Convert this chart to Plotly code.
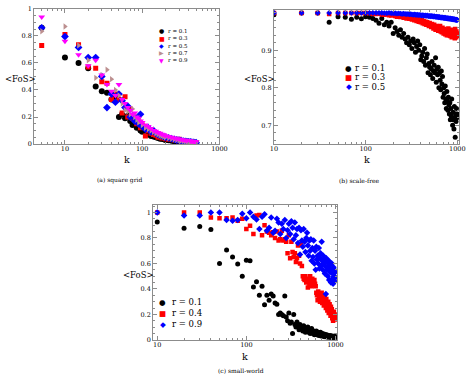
import plotly.graph_objects as go

# ------------------------------------------------------------------ data
# (a) square grid
k_sq = [5, 10, 15, 20, 25, 30, 35, 40, 45, 50,
        55, 60, 65, 70, 75, 80, 85, 90, 95, 100,
        110, 120, 130, 140, 150, 160, 170, 180, 190, 200,
        220, 240, 260, 280, 300, 320, 340, 360, 380, 400, 420, 440, 460, 480, 500]
fos_sq_r01 = [0.86, 0.64, 0.60, 0.56, 0.425, 0.39, 0.38, 0.33, 0.35, 0.20,
              0.22, 0.19, 0.21, 0.17, 0.14, 0.15, 0.12, 0.13, 0.10, 0.09,
              0.10, 0.07, 0.06, 0.055, 0.05, 0.045, 0.04, 0.04, 0.035, 0.03,
              0.028, 0.025, 0.02, 0.02, 0.015, 0.015, 0.012, 0.012, 0.01, 0.01, 0.008, 0.008, 0.007, 0.006, 0.006]
fos_sq_r03 = [0.73, 0.81, 0.735, 0.57, 0.56, 0.46, 0.45, 0.33, 0.37, 0.33,
              0.23, 0.35, 0.20, 0.26, 0.19, 0.20, 0.15, 0.17, 0.12, 0.14,
              0.06, 0.10, 0.08, 0.07, 0.065, 0.05, 0.055, 0.045, 0.05, 0.04,
              0.035, 0.04, 0.03, 0.028, 0.035, 0.02, 0.022, 0.018, 0.02, 0.015, 0.016, 0.012, 0.014, 0.01, 0.011]
fos_sq_r05 = [0.86, 0.795, 0.715, 0.64, 0.64, 0.50, 0.27, 0.37, 0.31, 0.37,
              0.32, 0.27, 0.28, 0.20, 0.21, 0.17, 0.19, 0.15, 0.22, 0.13,
              0.11, 0.12, 0.09, 0.10, 0.08, 0.07, 0.065, 0.06, 0.055, 0.05,
              0.045, 0.04, 0.035, 0.03, 0.028, 0.025, 0.022, 0.02, 0.018, 0.016, 0.015, 0.014, 0.012, 0.011, 0.01]
fos_sq_r07 = [0.835, 0.87, 0.73, 0.62, 0.49, 0.51, 0.55, 0.48, 0.40, 0.36,
              0.30, 0.25, 0.24, 0.22, 0.26, 0.20, 0.18, 0.16, 0.17, 0.14,
              0.12, 0.11, 0.10, 0.09, 0.08, 0.072, 0.065, 0.06, 0.055, 0.05,
              0.045, 0.04, 0.035, 0.032, 0.028, 0.025, 0.022, 0.02, 0.018, 0.016, 0.015, 0.014, 0.013, 0.012, 0.011]
fos_sq_r09 = [0.94, 0.76, 0.66, 0.58, 0.62, 0.51, 0.44, 0.39, 0.36, 0.44,
              0.33, 0.30, 0.27, 0.25, 0.22, 0.23, 0.20, 0.19, 0.17, 0.16,
              0.14, 0.13, 0.115, 0.10, 0.095, 0.085, 0.08, 0.072, 0.068, 0.062,
              0.055, 0.05, 0.045, 0.04, 0.037, 0.034, 0.03, 0.028, 0.026, 0.024, 0.022, 0.02, 0.019, 0.018, 0.016]

# (b) scale-free
k_sf = [10, 20, 30, 40, 50, 60, 70, 80, 90, 100,
        110, 120, 130, 140, 150, 160, 170, 180, 190, 200,
        210, 220, 230, 240, 250, 260, 270, 280, 290, 300,
        310, 320, 330, 340, 350, 360, 370, 380, 390, 400,
        410, 420, 430, 440, 450, 460, 470, 480, 490, 500,
        510, 520, 530, 540, 550, 560, 570, 580, 590, 600,
        610, 620, 630, 640, 650, 660, 670, 680, 690, 700,
        710, 720, 730, 740, 750, 760, 770, 780, 790, 800,
        810, 820, 830, 840, 850, 860, 870, 880, 890, 900,
        910, 920, 930, 940, 950, 960, 970, 980, 990, 1000]
fos_sf_r01 = [0.995, 1.0, 1.0, 0.975, 0.99, 0.988, 0.983, 0.988, 0.984, 0.99,
              0.988, 0.985, 0.98, 0.972, 0.985, 0.968, 0.975, 0.965, 0.975, 0.945,
              0.96, 0.95, 0.94, 0.955, 0.935, 0.945, 0.93, 0.92, 0.935, 0.915,
              0.925, 0.905, 0.93, 0.92, 0.895, 0.91, 0.925, 0.9, 0.915, 0.875,
              0.885, 0.895, 0.87, 0.905, 0.86, 0.88, 0.89, 0.84, 0.865, 0.855,
              0.835, 0.85, 0.87, 0.825, 0.845, 0.86, 0.84, 0.88, 0.815, 0.85,
              0.835, 0.855, 0.8, 0.84, 0.82, 0.795, 0.845, 0.81, 0.83, 0.775,
              0.8, 0.785, 0.76, 0.805, 0.77, 0.745, 0.79, 0.765, 0.74, 0.775,
              0.755, 0.73, 0.76, 0.715, 0.745, 0.725, 0.77, 0.72, 0.7, 0.735,
              0.715, 0.69, 0.75, 0.72, 0.668, 0.73, 0.71, 0.745, 0.72, 0.73]
fos_sf_r03 = [1.0, 1.0, 1.0, 0.997, 1.0, 1.0, 1.0, 1.0, 1.0, 1.0,
              0.999, 0.998, 0.997, 0.998, 0.996, 0.995, 0.996, 0.994, 0.993, 0.995,
              0.992, 0.99, 0.993, 0.989, 0.991, 0.987, 0.99, 0.985, 0.988, 0.984,
              0.987, 0.982, 0.986, 0.98, 0.985, 0.978, 0.983, 0.976, 0.982, 0.975,
              0.98, 0.972, 0.978, 0.97, 0.976, 0.968, 0.975, 0.97, 0.965, 0.973,
              0.967, 0.962, 0.97, 0.964, 0.958, 0.968, 0.96, 0.955, 0.965, 0.958,
              0.962, 0.952, 0.96, 0.955, 0.965, 0.95, 0.958, 0.948, 0.96, 0.952,
              0.945, 0.957, 0.95, 0.943, 0.955, 0.947, 0.94, 0.952, 0.945, 0.958,
              0.94, 0.948, 0.953, 0.938, 0.945, 0.95, 0.935, 0.955, 0.942, 0.948,
              0.937, 0.952, 0.944, 0.932, 0.957, 0.94, 0.935, 0.95, 0.945, 0.938]
fos_sf_r05 = [1.0, 1.0, 1.0, 1.0, 1.0, 1.0, 1.0, 1.0, 1.0, 1.0,
              1.0, 1.0, 1.0, 1.0, 1.0, 0.9995, 0.999, 1.0, 0.999, 0.9985,
              0.999, 0.998, 0.9985, 0.998, 0.997, 0.998, 0.997, 0.9965, 0.997, 0.996,
              0.9965, 0.996, 0.995, 0.996, 0.995, 0.9945, 0.995, 0.994, 0.9945, 0.994,
              0.993, 0.994, 0.993, 0.9925, 0.993, 0.992, 0.993, 0.992, 0.991, 0.992,
              0.991, 0.992, 0.9905, 0.991, 0.99, 0.991, 0.99, 0.9895, 0.99, 0.989,
              0.9895, 0.989, 0.988, 0.989, 0.988, 0.9875, 0.988, 0.987, 0.988, 0.987,
              0.9865, 0.987, 0.986, 0.987, 0.986, 0.9855, 0.986, 0.985, 0.986, 0.985,
              0.9845, 0.985, 0.984, 0.985, 0.984, 0.9835, 0.984, 0.983, 0.984, 0.983,
              0.9825, 0.983, 0.982, 0.983, 0.982, 0.9815, 0.982, 0.981, 0.982, 0.981]

# (c) small-world
k_sw = [10, 20, 30, 40, 50, 60, 70, 80, 90, 100,
        110, 120, 130, 140, 150, 160, 170, 180, 190, 200,
        210, 220, 230, 240, 250, 260, 270, 280, 290, 300,
        310, 320, 330, 340, 350, 360, 370, 380, 390, 400,
        410, 420, 430, 440, 450, 460, 470, 480, 490, 500,
        510, 520, 530, 540, 550, 560, 570, 580, 590, 600,
        610, 620, 630, 640, 650, 660, 670, 680, 690, 700,
        710, 720, 730, 740, 750, 760, 770, 780, 790, 800,
        810, 820, 830, 840, 850, 860, 870, 880, 890, 900,
        910, 920, 930, 940, 950, 960, 970, 980, 990, 1000]
fos_sw_r01 = [0.925, 0.875, 0.89, 0.865, 0.6, 0.705, 0.65, 0.595, 0.5, 0.625,
              0.62, 0.415, 0.455, 0.35, 0.42, 0.275, 0.35, 0.31, 0.36, 0.345,
              0.29, 0.28, 0.2, 0.21, 0.2, 0.19, 0.345, 0.18, 0.15, 0.21,
              0.13, 0.14, 0.05, 0.2, 0.12, 0.1, 0.14, 0.11, 0.08, 0.12,
              0.09, 0.1, 0.07, 0.11, 0.08, 0.06, 0.09, 0.07, 0.1, 0.06,
              0.08, 0.05, 0.07, 0.09, 0.06, 0.05, 0.07, 0.04, 0.06, 0.05,
              0.07, 0.04, 0.05, 0.06, 0.035, 0.05, 0.04, 0.06, 0.03, 0.045,
              0.035, 0.05, 0.03, 0.04, 0.025, 0.045, 0.03, 0.035, 0.025, 0.04,
              0.02, 0.035, 0.03, 0.02, 0.03, 0.025, 0.035, 0.02, 0.03, 0.015,
              0.025, 0.03, 0.02, 0.025, 0.015, 0.025, 0.02, 0.03, 0.015, 0.02]
fos_sw_r04 = [1.0, 1.0, 1.0, 0.96, 0.955, 0.955, 0.96, 0.935, 0.95, 0.87,
              0.895, 0.83, 0.975, 0.98, 0.82, 0.9, 0.85, 0.84, 0.82, 0.845,
              0.8, 0.85, 0.78, 0.79, 0.855, 0.78, 0.79, 0.77, 0.68, 0.82,
              0.64, 0.77, 0.69, 0.65, 0.68, 0.61, 0.64, 0.74, 0.66, 0.6,
              0.75, 0.58, 0.5, 0.48, 0.47, 0.5, 0.45, 0.48, 0.41, 0.47,
              0.44, 0.5, 0.46, 0.42, 0.48, 0.45, 0.43, 0.47, 0.44, 0.42,
              0.37, 0.35, 0.31, 0.38, 0.33, 0.36, 0.3, 0.34, 0.32, 0.37,
              0.29, 0.33, 0.35, 0.27, 0.31, 0.34, 0.28, 0.25, 0.32, 0.29,
              0.23, 0.27, 0.3, 0.21, 0.25, 0.28, 0.22, 0.19, 0.26, 0.2,
              0.24, 0.17, 0.21, 0.15, 0.19, 0.22, 0.17, 0.2, 0.16, 0.18]
fos_sw_r09 = [1.0, 0.975, 0.975, 1.0, 1.0, 0.94, 0.935, 0.94, 0.99, 0.955,
              1.0, 0.965, 0.945, 0.87, 0.965, 0.985, 0.855, 0.88, 0.96, 0.84,
              0.855, 0.95, 0.92, 0.83, 0.91, 0.87, 0.94, 0.8, 0.86, 0.91,
              0.83, 0.93, 0.88, 0.79, 0.92, 0.82, 0.87, 0.76, 0.88, 0.67,
              0.86, 0.78, 0.73, 0.87, 0.77, 0.69, 0.8, 0.84, 0.74, 0.66,
              0.78, 0.7, 0.79, 0.62, 0.72, 0.65, 0.78, 0.6, 0.7, 0.55,
              0.73, 0.63, 0.66, 0.6, 0.72, 0.56, 0.64, 0.68, 0.58, 0.77,
              0.62, 0.55, 0.66, 0.6, 0.63, 0.52, 0.58, 0.36, 0.64, 0.55,
              0.61, 0.5, 0.57, 0.62, 0.47, 0.59, 0.53, 0.56, 0.45, 0.54,
              0.6, 0.48, 0.52, 0.44, 0.57, 0.5, 0.55, 0.46, 0.53, 0.49]

labels_sq = ["r = 0.1", "r = 0.3", "r = 0.5", "r = 0.7", "r = 0.9"]
labels_sf = ["r = 0.1", "r = 0.3", "r = 0.5"]
labels_sw = ["r = 0.1", "r = 0.4", "r = 0.9"]
captions = ["(a) square grid", "(b) scale-free", "(c) small-world"]

for kk, ss in [(k_sq, [fos_sq_r01, fos_sq_r03, fos_sq_r05, fos_sq_r07, fos_sq_r09]),
               (k_sf, [fos_sf_r01, fos_sf_r03, fos_sf_r05]),
               (k_sw, [fos_sw_r01, fos_sw_r04, fos_sw_r09])]:
    for s in ss:
        assert len(s) == len(kk), (len(s), len(kk))

# ------------------------------------------------------------------ style
W, H = 474, 385
FONT = "DejaVu Serif"
AX = "#8c8c8c"
BLACK, RED, BLUE, BROWN, MAGENTA = "#000000", "#ff0000", "#0000ff", "#bc8f8f", "#ff00ff"
SYM = {"circle": "\u25CF", "square": "\u25A0", "diamond": "\u25C6",
       "triangle-right": "\u25B6", "triangle-down": "\u25BC"}


def px(x):
    return x / W


def py(y):
    return 1 - y / H


fig = go.Figure()

series = [
    ("x", "y", k_sq, fos_sq_r01, BLACK, "circle", 6),
    ("x", "y", k_sq, fos_sq_r03, RED, "square", 5),
    ("x", "y", k_sq, fos_sq_r05, BLUE, "diamond", 6),
    ("x", "y", k_sq, fos_sq_r07, BROWN, "triangle-right", 5.5),
    ("x", "y", k_sq, fos_sq_r09, MAGENTA, "triangle-down", 6),
    ("x2", "y2", k_sf, fos_sf_r01, BLACK, "circle", 5),
    ("x2", "y2", k_sf, fos_sf_r03, RED, "square", 4.5),
    ("x2", "y2", k_sf, fos_sf_r05, BLUE, "diamond", 4.5),
    ("x3", "y3", k_sw, fos_sw_r01, BLACK, "circle", 5),
    ("x3", "y3", k_sw, fos_sw_r04, RED, "square", 4.5),
    ("x3", "y3", k_sw, fos_sw_r09, BLUE, "diamond", 5),
]
for xa, ya, kk, vv, col, sym, size in series:
    fig.add_trace(go.Scatter(x=kk, y=vv, mode="markers", xaxis=xa, yaxis=ya,
                             showlegend=False, hoverinfo="skip",
                             marker=dict(color=col, symbol=sym, size=size, line=dict(width=0))))


def minor_log(lo, hi):
    vals = []
    for dec in [1, 10, 100, 1000]:
        for m in range(2, 10):
            v = m * dec
            if lo <= v <= hi:
                vals.append(v)
    return vals


def xaxis(domain, rng, anchor, lo, hi):
    return dict(type="log", domain=domain, range=rng, anchor=anchor,
                tickmode="array", tickvals=[10, 100, 1000], ticktext=["10", "100", "1000"],
                ticks="inside", ticklen=4, tickcolor=AX, tickwidth=1,
                linecolor=AX, linewidth=1, mirror="allticks",
                showgrid=False, zeroline=False, ticklabelstandoff=-2,
                tickfont=dict(family=FONT, size=6.5, color="black"),
                minor=dict(tickmode="array", tickvals=minor_log(lo, hi), ticks="inside",
                           ticklen=2, tickcolor=AX, showgrid=False))


def yaxis(domain, rng, anchor, tickvals, minor_dtick):
    return dict(domain=domain, range=rng, anchor=anchor,
                tickmode="array", tickvals=tickvals,
                ticks="inside", ticklen=4, tickcolor=AX, tickwidth=1,
                linecolor=AX, linewidth=1, mirror="allticks",
                showgrid=False, zeroline=False,
                tickfont=dict(family=FONT, size=6.5, color="black"),
                minor=dict(dtick=minor_dtick, ticks="inside", ticklen=2, tickcolor=AX, showgrid=False))


layout = dict(
    width=W, height=H, autosize=False,
    margin=dict(l=0, r=0, t=0, b=0, pad=0),
    paper_bgcolor="white", plot_bgcolor="white",
    showlegend=False,
    xaxis=xaxis([px(31), px(221)], [0.602, 3.0], "y", 4, 1000),
    yaxis=yaxis([py(143), py(5)], [0, 1.0], "x", [0, 0.2, 0.4, 0.6, 0.8, 1.0], 0.05),
    xaxis2=xaxis([px(277), px(467)], [1.0, 3.021], "y2", 10, 1050),
    yaxis2=yaxis([py(143), py(6)], [0.65, 1.008], "x2", [0.7, 0.8, 0.9], 0.02),
    xaxis3=xaxis([px(153), px(342)], [0.954, 3.021], "y3", 9, 1050),
    yaxis3=yaxis([py(343), py(205)], [0, 1.06], "x3", [0, 0.2, 0.4, 0.6, 0.8, 1.0], 0.05),
)
fig.update_layout(**layout)

ann = []


def text(x, y, t, size, anchor="center", color="black", family=FONT):
    ann.append(dict(x=px(x), y=py(y), xref="paper", yref="paper", text=t, showarrow=False,
                    xanchor=anchor, yanchor="middle",
                    font=dict(family=family, size=size, color=color)))


# axis titles
for (xl, yl), (xk, yk) in [((16.5, 77), (126, 158.5)), ((262.5, 77), (372, 158.5)), ((137.5, 277), (247, 359.5))]:
    text(xl, yl, "&lt;FoS&gt;", 8.5)
    text(xk, yk, "k", 9.5)

# captions
for (xc, yc), cap in zip([(119, 180), (365, 180), (243, 374)], captions):
    text(xc, yc, cap, 6)

# legends
leg_a = [(BLACK, "circle"), (RED, "square"), (BLUE, "diamond"), (BROWN, "triangle-right"), (MAGENTA, "triangle-down")]
for i, ((col, sym), lab) in enumerate(zip(leg_a, labels_sq)):
    yy = 27.5 + 7.5 * i
    text(162, yy, SYM[sym], 6, color=col, family="DejaVu Sans")
    text(166, yy, lab, 5.5, anchor="left")

leg_b = [(BLACK, "circle"), (RED, "square"), (BLUE, "diamond")]
for i, ((col, sym), lab) in enumerate(zip(leg_b, labels_sf)):
    yy = 65.5 + 9.5 * i
    text(353.5, yy, SYM[sym], 7.5, color=col, family="DejaVu Sans")
    text(358, yy, lab, 8.5, anchor="left")

for i, ((col, sym), lab) in enumerate(zip(leg_b, labels_sw)):
    yy = 304.5 + 11.3 * i
    text(163, yy, SYM[sym], 7.5, color=col, family="DejaVu Sans")
    text(170.5, yy, lab, 8.5, anchor="left")

fig.update_layout(annotations=ann)

fig.write_html("out.html", config={"displayModeBar": False},
               post_script="document.body.style.margin='0';")
